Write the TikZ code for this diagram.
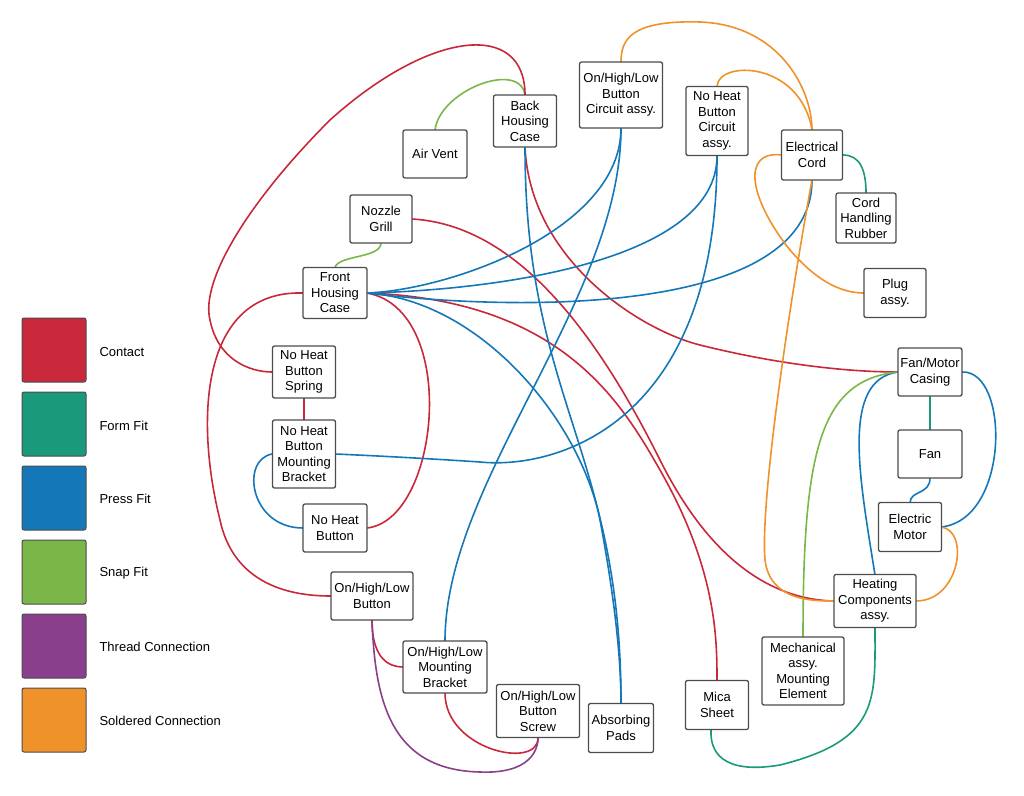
\documentclass[tikz,border=0pt]{standalone}
\usepackage{fontspec}
\setmainfont{Liberation Sans}
\begin{document}
\begin{tikzpicture}[x=1pt,y=-1pt,
  box/.style={draw=black!70,line width=1.3pt,rounded corners=2pt,fill=white,align=center,font=\fontsize{13}{15.5}\selectfont,inner sep=0pt},
  leg/.style={draw=black!70,line width=1pt,rounded corners=2pt,minimum width=64pt,minimum height=64pt},
  lab/.style={anchor=west,font=\fontsize{13}{15}\selectfont},
  e/.style={line width=1.6pt},
  red/.style={e,draw=cRed}, teal/.style={e,draw=cTeal}, blue/.style={e,draw=cBlue},
  grn/.style={e,draw=cGrn}, pur/.style={e,draw=cPur}, org/.style={e,draw=cOrg}]
\definecolor{cRed}{HTML}{C8283A}
\definecolor{cTeal}{HTML}{1A9A7A}
\definecolor{cBlue}{HTML}{1478B8}
\definecolor{cGrn}{HTML}{7AB648}
\definecolor{cPur}{HTML}{8A3F8C}
\definecolor{cOrg}{HTML}{F0922A}
\useasboundingbox (0,0) rectangle (1024,795);
% legend
\node[leg,fill=cRed] (l1) at (54,350) {}; \node[lab] (t1) at (96,352) {Contact};
\node[leg,fill=cTeal] (l2) at (54,424) {}; \node[lab] (t2) at (96,426) {Form Fit};
\node[leg,fill=cBlue] (l3) at (54,498) {}; \node[lab] (t3) at (96,499) {Press Fit};
\node[leg,fill=cGrn] (l4) at (54,572) {}; \node[lab] (t4) at (96,573) {Snap Fit};
\node[leg,fill=cPur] (l5) at (54,646) {}; \node[lab] (t5) at (96,647) {Thread Connection};
\node[leg,fill=cOrg] (l6) at (54,720) {}; \node[lab] (t6) at (96,721) {Soldered Connection};
% coordinates for edge ends
\coordinate (bhT) at (525,95); \coordinate (bhB) at (525,147);
\coordinate (bcT) at (621,62); \coordinate (bcB) at (621,128);
\coordinate (ncT) at (717,87); \coordinate (ncB) at (717,156);
\coordinate (ecT) at (812,130); \coordinate (ecB) at (812,180); \coordinate (ecL) at (782,155); \coordinate (ecR) at (843,155);
\coordinate (fhR) at (367,293); \coordinate (fhL) at (303,293); \coordinate (fhT) at (335,267);
% edges
\draw[grn] (435,130) .. controls (440,90) and (520,60) .. (bhT);
\draw[grn] (381,243) .. controls (381,258) and (340,255) .. (fhT);
\draw[red] (bhT) .. controls (525,20) and (430,30) .. (330,120) .. controls (250,200) and (200,280) .. (210,320) .. controls (218,360) and (250,372) .. (272,372);
\draw[red] (fhR) .. controls (460,310) and (440,520) .. (367,528);
\draw[red] (fhL) .. controls (200,290) and (195,420) .. (220,520) .. controls (235,590) and (300,596) .. (331,596);
\draw[red] (304,398) -- (304,420);
\draw[red] (bhB) .. controls (530,260) and (640,330) .. (700,345) .. controls (780,365) and (850,372) .. (898,372);
\draw[red] (412,219) .. controls (520,225) and (600,340) .. (660,460) .. controls (720,580) and (790,600) .. (834,601);
\draw[red] (fhR) .. controls (560,300) and (620,400) .. (660,470) .. controls (717,570) and (717,640) .. (717,681);
\draw[red] (372,620) .. controls (372,660) and (390,667) .. (403,667);
\draw[red] (445,693) .. controls (445,750) and (538,770) .. (538,738);
\draw[pur] (372,620) .. controls (375,700) and (390,770) .. (480,772) .. controls (530,774) and (538,750) .. (538,738);
\draw[blue] (bhB) .. controls (525,400) and (621,450) .. (621,703);
\draw[blue] (fhR) .. controls (480,300) and (580,420) .. (600,520) .. controls (615,600) and (621,660) .. (621,703);
\draw[blue] (bcB) .. controls (621,230) and (450,290) .. (fhR);
\draw[blue] (bcB) .. controls (621,300) and (445,480) .. (445,641);
\draw[blue] (ncB) .. controls (717,260) and (500,290) .. (fhR);
\draw[blue] (ncB) .. controls (717,420) and (560,470) .. (480,462) .. controls (420,458) and (360,455) .. (335,454);
\draw[blue] (ecB) .. controls (812,320) and (500,310) .. (fhR);
\draw[blue] (272,454) .. controls (240,460) and (250,528) .. (303,528);
\draw[blue] (898,372) .. controls (840,380) and (860,480) .. (875,575);
\draw[blue] (962,372) .. controls (1010,370) and (1010,520) .. (941,527);
\draw[blue] (930,478) .. controls (930,495) and (910,490) .. (910,503);
\draw[teal] (ecR) .. controls (860,155) and (866,170) .. (866,193);
\draw[teal] (930,396) -- (930,430);
\draw[teal] (875,628) .. controls (875,700) and (880,740) .. (780,765) .. controls (720,775) and (710,750) .. (711,730);
\draw[grn] (898,372) .. controls (820,380) and (803,450) .. (803,637);
\draw[org] (bcT) .. controls (621,40) and (630,20) .. (700,22) .. controls (780,25) and (812,90) .. (ecT);
\draw[org] (ncT) .. controls (717,60) and (800,60) .. (ecT);
\draw[org] (ecL) .. controls (740,150) and (750,200) .. (790,250) .. controls (820,285) and (845,293) .. (864,293);
\draw[org] (ecB) .. controls (790,300) and (760,500) .. (765,560) .. controls (770,600) and (810,601) .. (834,601);
\draw[org] (941,527) .. controls (970,530) and (960,601) .. (916,601);
% nodes
\node[box,minimum width=64pt,minimum height=48pt] (av) at (435,154) {Air Vent};
\node[box,minimum width=63pt,minimum height=52pt] (bh) at (525,121) {Back\\Housing\\Case};
\node[box,minimum width=83pt,minimum height=66pt] (bc) at (621,95) {On/High/Low\\Button\\Circuit assy.};
\node[box,minimum width=62pt,minimum height=69pt] (nc) at (717,121) {No Heat\\Button\\Circuit\\assy.};
\node[box,minimum width=61pt,minimum height=50pt] (ec) at (812,155) {Electrical\\Cord};
\node[box,minimum width=60pt,minimum height=50pt] (cr) at (866,218) {Cord\\Handling\\Rubber};
\node[box,minimum width=62pt,minimum height=48pt] (ng) at (381,219) {Nozzle\\Grill};
\node[box,minimum width=64pt,minimum height=51pt] (fh) at (335,293) {Front\\Housing\\Case};
\node[box,minimum width=62pt,minimum height=49pt] (pa) at (895,293) {Plug\\assy.};
\node[box,minimum width=63pt,minimum height=52pt] (ns) at (304,372) {No Heat\\Button\\Spring};
\node[box,minimum width=64pt,minimum height=48pt] (fm) at (930,372) {Fan/Motor\\Casing};
\node[box,minimum width=63pt,minimum height=68pt] (nb) at (304,454) {No Heat\\Button\\Mounting\\Bracket};
\node[box,minimum width=64pt,minimum height=48pt] (fan) at (930,454) {Fan};
\node[box,minimum width=64pt,minimum height=48pt] (nh) at (335,528) {No Heat\\Button};
\node[box,minimum width=63pt,minimum height=49pt] (em) at (910,527) {Electric\\Motor};
\node[box,minimum width=82pt,minimum height=48pt] (ob) at (372,596) {On/High/Low\\Button};
\node[box,minimum width=82pt,minimum height=53pt] (hc) at (875,601) {Heating\\Components\\assy.};
\node[box,minimum width=82pt,minimum height=68pt] (me) at (803,671) {Mechanical\\assy.\\Mounting\\Element};
\node[box,minimum width=84pt,minimum height=52pt] (om) at (445,667) {On/High/Low\\Mounting\\Bracket};
\node[box,minimum width=83pt,minimum height=53pt] (os) at (538,711) {On/High/Low\\Button\\Screw};
\node[box,minimum width=65pt,minimum height=49pt] (ap) at (621,728) {Absorbing\\Pads};
\node[box,minimum width=63pt,minimum height=49pt] (ms) at (717,705) {Mica\\Sheet};
\end{tikzpicture}
\end{document}
